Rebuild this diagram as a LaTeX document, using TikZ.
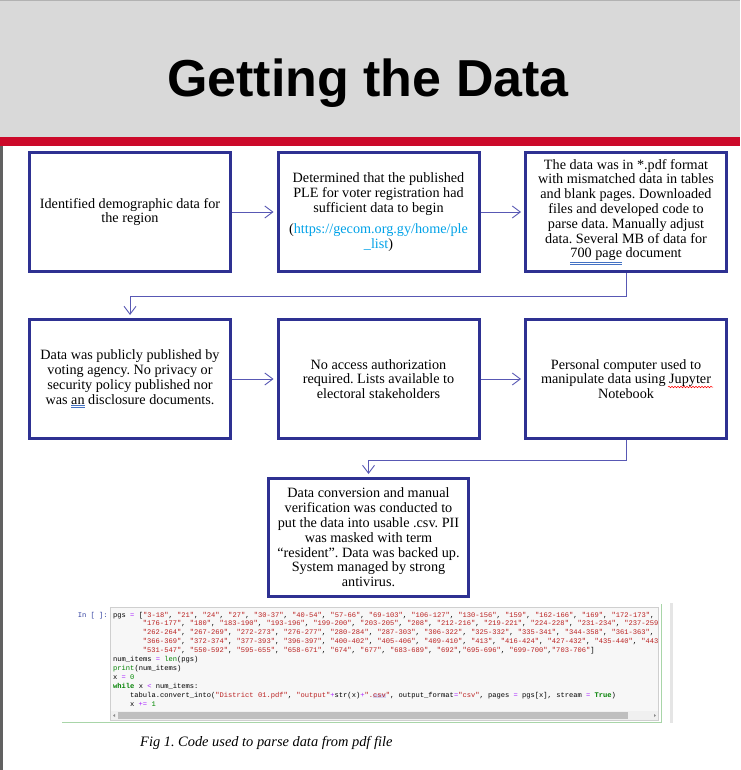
\documentclass[tikz,border=0pt]{standalone}
\usepackage{fontspec}
\setmainfont{Liberation Serif}
\setmonofont{Liberation Mono}
\newfontfamily\titlefont{Liberation Sans}
\usetikzlibrary{arrows.meta,decorations.pathmorphing}
\frenchspacing
\definecolor{hdrgray}{HTML}{D9D9D9}
\definecolor{hdrred}{HTML}{CC0A2A}
\definecolor{navy}{HTML}{2E3192}
\definecolor{connc}{HTML}{5858B4}
\definecolor{linkc}{HTML}{00A2E8}
\definecolor{ulblue}{HTML}{4472C4}
\definecolor{cstr}{HTML}{BA2121}
\definecolor{cop}{HTML}{AA22FF}
\definecolor{ckw}{HTML}{008000}
\definecolor{cnum}{HTML}{008800}
\definecolor{cprompt}{HTML}{303F9F}
\definecolor{cellbg}{HTML}{F7F7F7}
\definecolor{cellbd}{HTML}{CFCFCF}
\definecolor{cgreen}{HTML}{A8D5A8}
\definecolor{hlbg}{HTML}{D6D3EE}
\newcommand\Qs[1]{\textcolor{cstr}{"#1"}}
\newcommand\Co[1]{\textcolor{cop}{#1}}
\newcommand\Ck[1]{\textcolor{ckw}{\bfseries #1}}
\newcommand\Cb[1]{\textcolor{ckw}{#1}}
\newcommand\Cn[1]{\textcolor{cnum}{#1}}
\newcommand\dul[1]{{\color{ulblue}\underline{\underline{\color{black}#1}}}}
\tikzset{
  box/.style={draw=navy, line width=3pt, fill=white, minimum width=201pt, minimum height=119pt, inner sep=0pt,
    align=center, font=\fontsize{14.2}{14.8}\selectfont},
  conn/.style={draw=connc, line width=0.9pt, -{Straight Barb[length=8pt,width=12pt,line width=0.9pt]}, shorten >=3pt},
  codeline/.style={anchor=base west, inner sep=0pt, font=\ttfamily\fontsize{7.1}{8.9}\selectfont},
}
\begin{document}
\begin{tikzpicture}[x=1pt,y=-1pt]
\useasboundingbox (0,0) rectangle (740,770);
\fill[white] (0,0) rectangle (740,770);
% header
\fill[hdrgray] (0,0) rectangle (740,137);
\draw[gray!60, line width=0.8pt] (0,0.4) -- (740,0.4);
\fill[hdrred] (0,137) rectangle (740,146.5);
\fill[black!62] (0,146.5) rectangle (3,770);
\node[anchor=base, inner sep=0pt, font=\titlefont\bfseries\fontsize{52}{56}\selectfont] (title) at (368,97) {Getting the Data};

% boxes row 1
\node[box] (b1) at (130,212) {Identified demographic data for\\the region};
\node[box] (b2) at (378.5,212) {Determined that the published\\PLE for voter registration had\\sufficient data to begin\\[6.5pt]
 ({\color{linkc}https://gecom.org.gy/home/ple}\\{\color{linkc}\_list})};
\node[box] (b3) at (626,212) {The data was in *.pdf format\\with mismatched data in tables\\and blank pages. Downloaded\\files and developed code to\\parse data. Manually adjust\\data. Several MB of data for\\\dul{700 page} document};
% boxes row 2
\node[box] (b4) at (130,379) {Data was publicly published by\\voting agency. No privacy or\\security policy published nor\\was \dul{an} disclosure documents.};
\node[box] (b5) at (378.5,379) {No access authorization\\required. Lists available to\\electoral stakeholders};
\node[box] (b6) at (626,379) {Personal computer used to\\manipulate data using Jupyter\\Notebook};
% box row 3
\node[box, minimum width=200pt, minimum height=118pt] (b7) at (368.5,537.5) {Data conversion and manual\\verification was conducted to\\put the data into usable .csv. PII\\was masked with term\\“resident”. Data was backed up.\\System managed by strong\\antivirus.};

% spelling wave under Jupyter
\draw[red, line width=0.5pt, decorate, decoration={snake, amplitude=0.8pt, segment length=3pt}] (668,387) -- (713,387);

% connectors
\draw[conn] (b1.east) -- (b2.west);
\draw[conn] (b2.east) -- (b3.west);
\draw[conn] (b3.south) -- ++(0,23.5) -| (b4.north);
\draw[conn] (b4.east) -- (b5.west);
\draw[conn] (b5.east) -- (b6.west);
\draw[conn] (b6.south) -- ++(0,20.5) -| (b7.north);

% code screenshot
\fill[black!10] (669.5,603) rectangle (673,723);
\draw[cgreen, line width=1pt] (62,722.7) -- (661.7,722.7) -- (661.7,604);
\draw[cellbd, fill=cellbg, line width=0.8pt] (110.5,607) rectangle (658,720.5);
\fill[black!6] (111,711) rectangle (657.5,720);
\fill[black!25] (118,712.3) rectangle (628,718.7);
\fill[black!45] (113,715.5) -- (115,714) -- (115,717) -- cycle;
\fill[black!45] (656,715.5) -- (654,714) -- (654,717) -- cycle;
\node[codeline, text=cprompt] (prompt) at (77.7,617) {In [ ]:};
\begin{scope}
\clip (111,607.5) rectangle (657.5,710.5);
\node[codeline] (l1) at (113,617) {pgs \Co{=} [\Qs{3-18}, \Qs{21}, \Qs{24}, \Qs{27}, \Qs{30-37}, \Qs{40-54}, \Qs{57-66}, \Qs{69-103}, \Qs{106-127}, \Qs{130-156}, \Qs{159}, \Qs{162-166}, \Qs{169}, \Qs{172-173},};
\node[codeline] (l2) at (142.75,625.95) {\Qs{176-177}, \Qs{180}, \Qs{183-190}, \Qs{193-196}, \Qs{199-200}, \Qs{203-205}, \Qs{208}, \Qs{212-216}, \Qs{219-221}, \Qs{224-228}, \Qs{231-234}, \Qs{237-259},};
\node[codeline] (l3) at (142.75,634.9) {\Qs{262-264}, \Qs{267-269}, \Qs{272-273}, \Qs{276-277}, \Qs{280-284}, \Qs{287-303}, \Qs{306-322}, \Qs{325-332}, \Qs{335-341}, \Qs{344-358}, \Qs{361-363},};
\node[codeline] (l4) at (142.75,643.85) {\Qs{366-369}, \Qs{372-374}, \Qs{377-393}, \Qs{396-397}, \Qs{400-402}, \Qs{405-406}, \Qs{409-410}, \Qs{413}, \Qs{416-424}, \Qs{427-432}, \Qs{435-440}, \textcolor{cstr}{"443-}};
\node[codeline] (l5) at (142.75,652.8) {\Qs{531-547}, \Qs{550-592}, \Qs{595-655}, \Qs{658-671}, \Qs{674}, \Qs{677}, \Qs{683-689}, \Qs{692},\Qs{695-696}, \Qs{699-700},\Qs{703-706}]};
\node[codeline] (l6) at (113,661.75) {num\_items \Co{=} \Cb{len}(pgs)};
\node[codeline] (l7) at (113,670.7) {\Cb{print}(num\_items)};
\node[codeline] (l8) at (113,679.65) {x \Co{=} \Cn{0}};
\node[codeline] (l9) at (113,688.6) {\Ck{while} x \Co{<} num\_items:};
\node[codeline] (l10) at (130,697.55) {tabula.convert\_into(\Qs{District 01.pdf}, \Qs{output}\Co{+}str(x)\Co{+}\textcolor{cstr}{".{\fboxsep=0pt\colorbox{hlbg}{csv}}"}, output\_format\Co{=}\Qs{csv}, pages \Co{=} pgs[x], stream \Co{=} \Ck{True})};
\node[codeline] (l11) at (130,706.5) {x \Co{+=} \Cn{1}};
\end{scope}

% caption
\node[anchor=base west, inner sep=0pt, font=\itshape\fontsize{14.4}{16}\selectfont] (cap) at (140,746) {Fig 1. Code used to parse data from pdf file};
\end{tikzpicture}
\end{document}
